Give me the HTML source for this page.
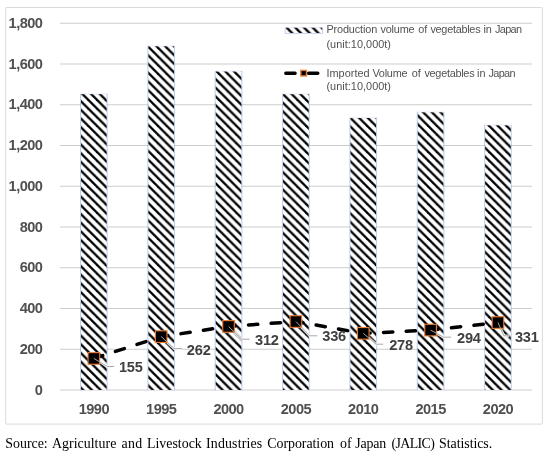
<!DOCTYPE html>
<html lang="en"><head><meta charset="utf-8"><title>Production and imported volume of vegetables in Japan</title>
<style>
html,body{margin:0;padding:0;background:#fff;}
body{width:550px;height:458px;overflow:hidden;}
svg text{font-family:"Liberation Sans",sans-serif;fill:#525252;}
svg text.ax{font-weight:bold;font-size:14.6px;letter-spacing:-0.55px;fill:#505050;}
svg text.dl{font-weight:bold;font-size:14.6px;letter-spacing:-0.2px;fill:#404040;}
svg text.lg{font-size:10.9px;}
svg text.src{font-family:"Liberation Serif",serif;font-size:13.9px;fill:#000;}
</style></head><body>
<svg width="550" height="458" viewBox="0 0 550 458" style="display:block">
<defs>
<pattern id="hatch" patternUnits="userSpaceOnUse" width="8.716" height="8.685" x="0" y="1.6">
<rect width="8.716" height="8.685" fill="#fff"/>
<polygon points="-8.716,-17.370 17.432,8.685 17.432,11.935 -8.716,-14.120" fill="#000"/>
<polygon points="-8.716,-8.685 17.432,17.370 17.432,20.620 -8.716,-5.435" fill="#000"/>
<polygon points="-8.716,0.000 17.432,26.055 17.432,29.305 -8.716,3.250" fill="#000"/>
</pattern>
<pattern id="hatch2" patternUnits="userSpaceOnUse" width="8.716" height="8.685" x="0.7" y="1.6">
<rect width="8.716" height="8.685" fill="#fff"/>
<polygon points="-8.716,-17.370 17.432,8.685 17.432,11.935 -8.716,-14.120" fill="#000"/>
<polygon points="-8.716,-8.685 17.432,17.370 17.432,20.620 -8.716,-5.435" fill="#000"/>
<polygon points="-8.716,0.000 17.432,26.055 17.432,29.305 -8.716,3.250" fill="#000"/>
</pattern>
</defs>
<rect width="550" height="458" fill="#fff"/>
<rect x="5.7" y="7.5" width="536.7" height="416.6" rx="1" fill="#fff" stroke="#dadada" stroke-width="1"/>
<line x1="60.0" x2="532.0" y1="390.00" y2="390.00" stroke="#cdcdcd" stroke-width="1.2"/>
<line x1="60.0" x2="532.0" y1="349.25" y2="349.25" stroke="#cdcdcd" stroke-width="1.2"/>
<line x1="60.0" x2="532.0" y1="308.50" y2="308.50" stroke="#cdcdcd" stroke-width="1.2"/>
<line x1="60.0" x2="532.0" y1="267.75" y2="267.75" stroke="#cdcdcd" stroke-width="1.2"/>
<line x1="60.0" x2="532.0" y1="227.00" y2="227.00" stroke="#cdcdcd" stroke-width="1.2"/>
<line x1="60.0" x2="532.0" y1="186.26" y2="186.26" stroke="#cdcdcd" stroke-width="1.2"/>
<line x1="60.0" x2="532.0" y1="145.51" y2="145.51" stroke="#cdcdcd" stroke-width="1.2"/>
<line x1="60.0" x2="532.0" y1="104.76" y2="104.76" stroke="#cdcdcd" stroke-width="1.2"/>
<line x1="60.0" x2="532.0" y1="64.01" y2="64.01" stroke="#cdcdcd" stroke-width="1.2"/>
<line x1="60.0" x2="532.0" y1="23.26" y2="23.26" stroke="#cdcdcd" stroke-width="1.2"/>
<text class="ax" x="42.4" y="394.50" text-anchor="end">0</text>
<text class="ax" x="42.4" y="353.75" text-anchor="end">200</text>
<text class="ax" x="42.4" y="313.00" text-anchor="end">400</text>
<text class="ax" x="42.4" y="272.25" text-anchor="end">600</text>
<text class="ax" x="42.4" y="231.50" text-anchor="end">800</text>
<text class="ax" x="42.4" y="190.76" text-anchor="end">1,000</text>
<text class="ax" x="42.4" y="150.01" text-anchor="end">1,200</text>
<text class="ax" x="42.4" y="109.26" text-anchor="end">1,400</text>
<text class="ax" x="42.4" y="68.51" text-anchor="end">1,600</text>
<text class="ax" x="42.4" y="27.76" text-anchor="end">1,800</text>
<rect x="81.00" y="94.16" width="25.7" height="295.84" fill="url(#hatch)"/>
<path d="M80.50,390.0 V93.76 M107.20,93.76 V390.0" fill="none" stroke="#4472c4" stroke-opacity="0.38" stroke-width="0.9"/>
<path d="M80.50,93.76 H107.20" fill="none" stroke="#4472c4" stroke-opacity="0.12" stroke-width="0.9"/>
<rect x="148.35" y="46.28" width="25.7" height="343.72" fill="url(#hatch)"/>
<path d="M147.85,390.0 V45.88 M174.55,45.88 V390.0" fill="none" stroke="#4472c4" stroke-opacity="0.38" stroke-width="0.9"/>
<path d="M147.85,45.88 H174.55" fill="none" stroke="#4472c4" stroke-opacity="0.12" stroke-width="0.9"/>
<rect x="215.70" y="71.54" width="25.7" height="318.46" fill="url(#hatch)"/>
<path d="M215.20,390.0 V71.14 M241.90,71.14 V390.0" fill="none" stroke="#4472c4" stroke-opacity="0.38" stroke-width="0.9"/>
<path d="M215.20,71.14 H241.90" fill="none" stroke="#4472c4" stroke-opacity="0.12" stroke-width="0.9"/>
<rect x="283.05" y="94.16" width="25.7" height="295.84" fill="url(#hatch)"/>
<path d="M282.55,390.0 V93.76 M309.25,93.76 V390.0" fill="none" stroke="#4472c4" stroke-opacity="0.38" stroke-width="0.9"/>
<path d="M282.55,93.76 H309.25" fill="none" stroke="#4472c4" stroke-opacity="0.12" stroke-width="0.9"/>
<rect x="350.40" y="117.99" width="25.7" height="272.01" fill="url(#hatch)"/>
<path d="M349.90,390.0 V117.59 M376.60,117.59 V390.0" fill="none" stroke="#4472c4" stroke-opacity="0.38" stroke-width="0.9"/>
<path d="M349.90,117.59 H376.60" fill="none" stroke="#4472c4" stroke-opacity="0.12" stroke-width="0.9"/>
<rect x="417.75" y="112.29" width="25.7" height="277.71" fill="url(#hatch)"/>
<path d="M417.25,390.0 V111.89 M443.95,111.89 V390.0" fill="none" stroke="#4472c4" stroke-opacity="0.38" stroke-width="0.9"/>
<path d="M417.25,111.89 H443.95" fill="none" stroke="#4472c4" stroke-opacity="0.12" stroke-width="0.9"/>
<rect x="485.10" y="125.33" width="25.7" height="264.67" fill="url(#hatch)"/>
<path d="M484.60,390.0 V124.93 M511.30,124.93 V390.0" fill="none" stroke="#4472c4" stroke-opacity="0.38" stroke-width="0.9"/>
<path d="M484.60,124.93 H511.30" fill="none" stroke="#4472c4" stroke-opacity="0.12" stroke-width="0.9"/>
<text class="ax" x="93.85" y="414.2" text-anchor="middle">1990</text>
<text class="ax" x="161.20" y="414.2" text-anchor="middle">1995</text>
<text class="ax" x="228.55" y="414.2" text-anchor="middle">2000</text>
<text class="ax" x="295.90" y="414.2" text-anchor="middle">2005</text>
<text class="ax" x="363.25" y="414.2" text-anchor="middle">2010</text>
<text class="ax" x="430.60" y="414.2" text-anchor="middle">2015</text>
<text class="ax" x="497.95" y="414.2" text-anchor="middle">2020</text>
<polyline points="93.85,358.42 161.20,336.62 228.55,326.43 295.90,321.54 363.25,333.36 430.60,330.10 497.95,322.56" fill="none" stroke="#000" stroke-width="3.5" stroke-linecap="round" stroke-linejoin="round" stroke-dasharray="9.3 13.4"/>
<path d="M93.85,358.42 L107.4,366.5 L114.1,366.5" fill="none" stroke="#fff" stroke-opacity="0.85" stroke-width="2.7"/>
<path d="M161.20,336.62 L174.1,348.6 L182.2,348.6" fill="none" stroke="#fff" stroke-opacity="0.85" stroke-width="2.7"/>
<path d="M228.55,326.43 L241.5,339.2 L249.6,339.2" fill="none" stroke="#fff" stroke-opacity="0.85" stroke-width="2.7"/>
<path d="M295.90,321.54 L309.9,335.8 L317.3,335.8" fill="none" stroke="#fff" stroke-opacity="0.85" stroke-width="2.7"/>
<path d="M363.25,333.36 L376.1,344.2 L383.2,344.2" fill="none" stroke="#fff" stroke-opacity="0.85" stroke-width="2.7"/>
<path d="M430.60,330.10 L443.5,337.2 L451.0,337.2" fill="none" stroke="#fff" stroke-opacity="0.85" stroke-width="2.7"/>
<path d="M497.95,322.56 L503.9,335.8 L509.3,335.8" fill="none" stroke="#fff" stroke-opacity="0.85" stroke-width="2.7"/>
<rect x="88.05" y="352.62" width="11.6" height="11.6" fill="#000" stroke="#ed7d31" stroke-width="1.1"/>
<rect x="155.40" y="330.82" width="11.6" height="11.6" fill="#000" stroke="#ed7d31" stroke-width="1.1"/>
<rect x="222.75" y="320.63" width="11.6" height="11.6" fill="#000" stroke="#ed7d31" stroke-width="1.1"/>
<rect x="290.10" y="315.74" width="11.6" height="11.6" fill="#000" stroke="#ed7d31" stroke-width="1.1"/>
<rect x="357.45" y="327.56" width="11.6" height="11.6" fill="#000" stroke="#ed7d31" stroke-width="1.1"/>
<rect x="424.80" y="324.30" width="11.6" height="11.6" fill="#000" stroke="#ed7d31" stroke-width="1.1"/>
<rect x="492.15" y="316.76" width="11.6" height="11.6" fill="#000" stroke="#ed7d31" stroke-width="1.1"/>
<path d="M93.85,358.42 L107.4,366.5 L114.1,366.5" fill="none" stroke="#a9a9a9" stroke-width="1"/>
<text class="dl" x="130.8" y="371.8" text-anchor="middle">155</text>
<path d="M161.20,336.62 L174.1,348.6 L182.2,348.6" fill="none" stroke="#a9a9a9" stroke-width="1"/>
<text class="dl" x="198.7" y="354.6" text-anchor="middle">262</text>
<path d="M228.55,326.43 L241.5,339.2 L249.6,339.2" fill="none" stroke="#a9a9a9" stroke-width="1"/>
<text class="dl" x="266.9" y="345.2" text-anchor="middle">312</text>
<path d="M295.90,321.54 L309.9,335.8 L317.3,335.8" fill="none" stroke="#a9a9a9" stroke-width="1"/>
<text class="dl" x="334.1" y="340.6" text-anchor="middle">336</text>
<path d="M363.25,333.36 L376.1,344.2 L383.2,344.2" fill="none" stroke="#a9a9a9" stroke-width="1"/>
<text class="dl" x="401.0" y="349.8" text-anchor="middle">278</text>
<path d="M430.60,330.10 L443.5,337.2 L451.0,337.2" fill="none" stroke="#a9a9a9" stroke-width="1"/>
<text class="dl" x="468.9" y="342.6" text-anchor="middle">294</text>
<path d="M497.95,322.56 L503.9,335.8 L509.3,335.8" fill="none" stroke="#a9a9a9" stroke-width="1"/>
<text class="dl" x="526.8" y="341.8" text-anchor="middle">331</text>
<rect x="285.6" y="27.7" width="36.6" height="5.3" fill="url(#hatch2)"/>
<path d="M285.2,27.5 V33.5 H322.5 V27.5" fill="none" stroke="#4472c4" stroke-opacity="0.32" stroke-width="0.9"/>
<path d="M285.2,27.5 H322.5" fill="none" stroke="#4472c4" stroke-opacity="0.1" stroke-width="0.9"/>
<text class="lg" y="33.45" xml:space="preserve"><tspan x="326.40" textLength="50.80" lengthAdjust="spacing">Production</tspan> <tspan x="380.40" textLength="34.20" lengthAdjust="spacing">volume</tspan> <tspan x="418.30">of</tspan> <tspan x="430.40" textLength="50.20" lengthAdjust="spacing">vegetables</tspan> <tspan x="483.46">in</tspan> <tspan x="495.00" textLength="27.00" lengthAdjust="spacing">Japan</tspan></text>
<text class="lg" x="326.4" y="47.5" textLength="64.6" lengthAdjust="spacing">(unit:10,000t)</text>
<line x1="285.8" x2="317.9" y1="73.2" y2="73.2" stroke="#000" stroke-width="3.4" stroke-linecap="round" stroke-dasharray="9.3 13.4"/>
<rect x="300.85" y="70.35" width="5.6" height="5.6" fill="#000" stroke="#ed7d31" stroke-width="1.4"/>
<text class="lg" y="76.6" xml:space="preserve"><tspan x="326.40" textLength="43.20" lengthAdjust="spacing">Imported</tspan> <tspan x="372.40" textLength="35.20" lengthAdjust="spacing">Volume</tspan> <tspan x="411.75">of</tspan> <tspan x="424.40" textLength="50.20" lengthAdjust="spacing">vegetables</tspan> <tspan x="477.06">in</tspan> <tspan x="488.40" textLength="27.20" lengthAdjust="spacing">Japan</tspan></text>
<text class="lg" x="326.4" y="90.1" textLength="64.6" lengthAdjust="spacing">(unit:10,000t)</text>
<text class="src" y="448.3" xml:space="preserve"><tspan x="5.30" textLength="42.40" lengthAdjust="spacing">Source:</tspan> <tspan x="51.90" textLength="64.40" lengthAdjust="spacing">Agriculture</tspan> <tspan x="121.40" textLength="20.80" lengthAdjust="spacing">and</tspan> <tspan x="146.90" textLength="54.90" lengthAdjust="spacing">Livestock</tspan> <tspan x="206.00" textLength="56.20" lengthAdjust="spacing">Industries</tspan> <tspan x="267.30" textLength="66.70" lengthAdjust="spacing">Corporation</tspan> <tspan x="340.01">of</tspan> <tspan x="355.30" textLength="31.00" lengthAdjust="spacing">Japan</tspan> <tspan x="391.40" textLength="43.50" lengthAdjust="spacing">(JALIC)</tspan> <tspan x="439.10" textLength="53.10" lengthAdjust="spacing">Statistics.</tspan></text>
</svg>
</body></html>
